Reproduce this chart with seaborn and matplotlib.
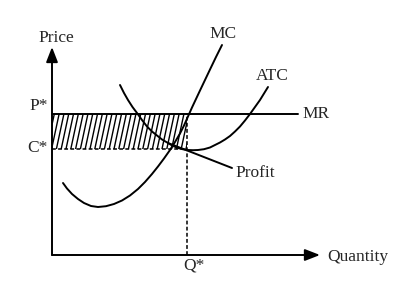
import numpy as np
import pandas as pd
import matplotlib
matplotlib.use("Agg")
import matplotlib.pyplot as plt
import seaborn as sns

# ---- data (quantity, price in arbitrary units; origin at axes corner) ----
mc_q = [1.1, 1.5, 2.0, 2.6, 3.2, 3.9, 4.6, 5.4, 6.2, 7.0, 7.8, 8.6, 9.3, 10.0,
        10.6, 11.2, 11.8, 12.3, 12.8, 13.2, 13.6, 14.0, 14.4, 14.8, 15.3, 15.8, 16.4, 17.0]
mc_p = [7.2, 6.65, 6.1, 5.6, 5.2, 4.9, 4.8, 4.88, 5.1, 5.45, 5.95, 6.6, 7.3, 8.1,
        8.85, 9.65, 10.5, 11.3, 12.15, 12.95, 13.85, 14.75, 15.6, 16.45, 17.5, 18.55, 19.8, 21.0]

atc_q = [6.8, 7.2, 7.6, 8.05, 8.5, 9.0, 9.5, 10.0, 10.5, 11.0, 11.6, 12.1, 12.6, 13.1, 13.6, 14.1,
         14.6, 15.2, 15.8, 16.3, 16.8, 17.3, 17.8, 18.3, 18.8, 19.3, 19.8, 20.3, 20.8, 21.2, 21.6]
atc_p = [17.0, 16.2, 15.5, 14.8, 14.2, 13.5, 12.85, 12.35, 11.95, 11.55, 11.2, 10.9, 10.7, 10.57, 10.5, 10.48,
         10.5, 10.58, 10.75, 11.0, 11.25, 11.55, 11.9, 12.35, 12.85, 13.45, 14.1, 14.8, 15.5, 16.15, 16.8]

p_star = 14.1   # price / MR
c_star = 10.6   # average total cost at Q*
q_star = 13.5   # profit-maximising quantity
mr_end = 24.6

profit_pointer_q = [11.6, 18.0]
profit_pointer_p = [11.2, 8.7]

x_arrow_end = 26.8
y_arrow_end = 20.8

# ---- style ----
sns.set_style("white")
plt.rcParams['font.family'] = ['Liberation Serif', 'DejaVu Serif']
FS = 12.5
LW = 1.4

fig = plt.figure(figsize=(4.2, 2.96), dpi=100)
ax = fig.add_axes([0, 0, 1, 1])
ax.set_xlim(-5.2, 36.8)
ax.set_ylim(-4.1, 25.5)
ax.axis('off')

df_mc = pd.DataFrame({'q': mc_q, 'p': mc_p})
df_atc = pd.DataFrame({'q': atc_q, 'p': atc_p})
sns.lineplot(data=df_mc, x='q', y='p', ax=ax, color='black', lw=LW, sort=False, legend=False)
sns.lineplot(data=df_atc, x='q', y='p', ax=ax, color='black', lw=LW, sort=False, legend=False)

# MR line
ax.plot([0, mr_end], [p_star, p_star], color='black', lw=LW)

# hatching of the profit rectangle
rect = plt.Rectangle((0, c_star), q_star, p_star - c_star, fill=False, lw=0)
ax.add_patch(rect)
slant = 0.75
for x0 in np.arange(-1.0, q_star + 0.5, 0.48):
    ln, = ax.plot([x0, x0 + slant], [c_star, p_star], color='black', lw=1.0)
    ln.set_clip_path(rect)

# dashed guides
ax.plot([0, q_star], [c_star, c_star], color='black', lw=1.1, ls=(0, (2.5, 1.5)))
ax.plot([q_star, q_star], [0, p_star], color='black', lw=1.1, ls=(0, (2.5, 1.5)))

# profit pointer
ax.plot(profit_pointer_q, profit_pointer_p, color='black', lw=LW)

# axes with arrows
arrow_kw = dict(arrowstyle='-|>,head_length=0.9,head_width=0.35', lw=LW, color='black',
                shrinkA=0, shrinkB=0)
ax.annotate('', xy=(x_arrow_end, 0), xytext=(0, 0), arrowprops=arrow_kw)
ax.annotate('', xy=(0, y_arrow_end), xytext=(0, 0), arrowprops=arrow_kw)

# labels
ax.text(0.4, 21.3, 'Price', ha='center', va='baseline', fontsize=FS)
ax.text(-0.4, 14.5, 'P*', ha='right', va='baseline', fontsize=FS)
ax.text(-0.4, 10.3, 'C*', ha='right', va='baseline', fontsize=FS)
ax.text(17.1, 21.7, 'MC', ha='center', va='baseline', fontsize=FS)
ax.text(22.0, 17.5, 'ATC', ha='center', va='baseline', fontsize=FS)
ax.text(25.0, 13.7, 'MR', ha='left', va='baseline', fontsize=FS)
ax.text(18.3, 7.8, 'Profit', ha='left', va='baseline', fontsize=FS)
ax.text(27.5, -0.6, 'Quantity', ha='left', va='baseline', fontsize=FS)
ax.text(14.2, -1.5, 'Q*', ha='center', va='baseline', fontsize=FS)

fig.savefig('out.png', dpi=100)
